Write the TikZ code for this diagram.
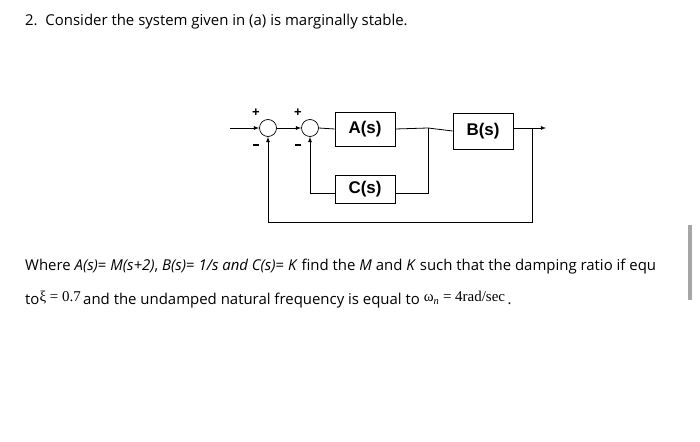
\documentclass[tikz,border=0pt]{standalone}
\usepackage{fontspec}
\setmainfont{Open Sans}
\newfontfamily\serifx{Liberation Serif}
\newfontfamily\helv{Liberation Sans}
\begin{document}
\begin{tikzpicture}[x=1bp,y=-1bp,
  blk/.style={draw,line width=0.8pt,minimum width=60bp,minimum height=34bp,inner sep=0pt,font=\helv\bfseries\fontsize{17}{17}\selectfont},
  sumj/.style={draw,circle,line width=0.7pt,minimum size=17bp,inner sep=0pt},
  ln/.style={line width=0.8pt},
  sg/.style={font=\helv\bfseries\fontsize{13}{13}\selectfont,inner sep=0pt},
  txt/.style={anchor=base west,inner sep=0pt,font=\fontsize{15}{18}\selectfont}]
\path[use as bounding box,clip] (0,0) rectangle (700,442);
\fill[white] (0,0) rectangle (700,442);
\node[sumj] (s1) at (268,128) {};
\node[sumj] (s2) at (310,128) {};
\node[blk] (A) at (365,129) {A(s)};
\node[blk,minimum height=36bp] (B) at (483,131) {B(s)};
\node[blk,minimum height=28bp] (C) at (365,189) {C(s)};
\coordinate (in) at (230,128);
\coordinate (j1) at (428,128);
\coordinate (j2) at (532,128);
\coordinate (out) at (546,128);
\draw[ln,-latex] (in) -- (s1.west);
\draw[ln,-latex] (s1.east) -- (s2.west);
\draw[ln] (s2.east) -- (A.west);
\draw[ln] (A.east) -- (j1) -- (B.west);
\draw[ln] (j1) |- (C.east |- 193,193) -- (C.east);
\draw[ln,-latex] (C.west) ++(0,4) -| (s2.south);
\draw[ln,-latex] (B.east |- j2) -- (out);
\draw[ln,-latex] (j2) |- (268,222) -- (s1.south);
\node[sg] at (256,113) {+};
\node[sg] at (298,113) {+};
\node[sg] at (256,145) {\rule{6bp}{2bp}};
\node[sg] at (298,145) {\rule{6bp}{2bp}};
\node[txt] (t1) at (25,26) {2.\ \ Consider the system given in (a) is marginally stable.};
\node[txt] (t2) at (25,271) {Where \textit{A(s)}= \textit{M(s+2)}, \textit{B(s)}= \textit{1/s and C(s)}= \textit{K} find the \textit{M} and \textit{K} such that the damping ratio if equ};
\node[txt] (t3) at (25,305) {to\raisebox{3bp}{\serifx\fontsize{15}{15}\selectfont ξ = 0.7}\,and the undamped natural frequency is equal to \raisebox{3bp}{\serifx\fontsize{15}{15}\selectfont ω\textsubscript{\textit{n}} = 4rad/sec}\,.};
\fill[gray!70] (688,225) rectangle (692,300);
\end{tikzpicture}
\end{document}
